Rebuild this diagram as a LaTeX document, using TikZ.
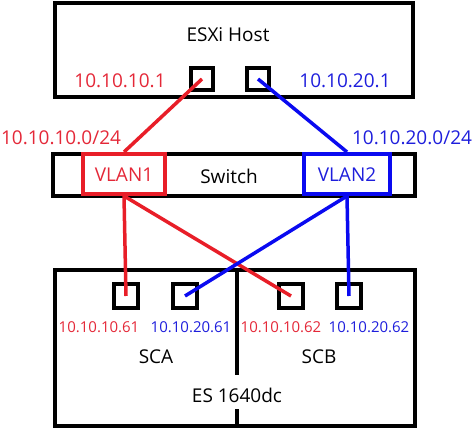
\documentclass[tikz,border=0pt]{standalone}
\usepackage{fontspec}
\setmainfont{Open Sans}
\definecolor{myred}{RGB}{232,30,40}
\definecolor{myblue}{RGB}{10,10,240}
\definecolor{redtxt}{RGB}{228,40,56}
\definecolor{bluetxt}{RGB}{30,30,220}
\begin{document}
\begin{tikzpicture}[x=1pt,y=-1pt,
  box/.style={draw=black,line width=4pt,inner sep=0pt},
  port/.style={draw=black,line width=4pt,minimum width=22pt,minimum height=22pt,inner sep=0pt},
  vlanbox/.style={line width=4pt,inner sep=0pt,minimum height=40pt},
  lbl/.style={font=\fontsize{19}{20}\selectfont,inner sep=0pt},
  small/.style={font=\fontsize{15}{16}\selectfont,inner sep=0pt},
  redline/.style={myred,line width=3.5pt},
  blueline/.style={myblue,line width=3.5pt}]
\useasboundingbox (0,0) rectangle (474,430);
% ESXi host
\node[box,minimum width=358pt,minimum height=94pt] (host) at (234,50) {};
\node[lbl] (hostlbl) at (228,35) {ESXi Host};
\node[port] (hp1) at (202,79) {};
\node[port] (hp2) at (258,79) {};
\node[lbl,text=redtxt] (ip1) at (120,81) {10.10.10.1};
\node[lbl,text=bluetxt] (ip2) at (345,81) {10.10.20.1};
\node[lbl,text=redtxt] (net1) at (61,138) {10.10.10.0/24};
\node[lbl,text=bluetxt] (net2) at (412,138) {10.10.20.0/24};
% Switch
\node[box,minimum width=362pt,minimum height=42pt] (sw) at (234,175) {};
\node[lbl] (swlbl) at (229,176) {Switch};
\node[vlanbox,draw=myred,minimum width=82pt] (v1) at (124,174) {};
\node[lbl,text=redtxt] (v1lbl) at (124,175) {VLAN1};
\node[vlanbox,draw=myblue,minimum width=86pt] (v2) at (347,174) {};
\node[lbl,text=bluetxt] (v2lbl) at (347,175) {VLAN2};
% Storage
\draw[black,line width=4pt] (55,270) rectangle (415,426);
\coordinate (dtop) at (237,270);
\coordinate (dgap1) at (237,375);
\coordinate (dgap2) at (237,409);
\coordinate (dbot) at (237,426);
\draw[black,line width=4pt] (dtop) -- (dgap1);
\draw[black,line width=4pt] (dgap2) -- (dbot);
\node[port,minimum width=24pt,minimum height=24pt] (a1) at (126,296) {};
\node[port,minimum width=24pt,minimum height=24pt] (a2) at (185,296) {};
\node[port,minimum width=24pt,minimum height=24pt] (b1) at (291,296) {};
\node[port,minimum width=24pt,minimum height=24pt] (b2) at (349,296) {};
\node[small,text=redtxt] (a1ip) at (99,327) {10.10.10.61};
\node[small,text=bluetxt] (a2ip) at (191,327) {10.10.20.61};
\node[small,text=redtxt] (b1ip) at (281,327) {10.10.10.62};
\node[small,text=bluetxt] (b2ip) at (369,327) {10.10.20.62};
\node[lbl] (sca) at (156,357) {SCA};
\node[lbl] (scb) at (319,357) {SCB};
\node[lbl] (es) at (237,395) {ES 1640dc};
% connectors
\draw[redline] (hp1.center) -- (v1.north);
\draw[blueline] (hp2.center) -- (v2.north);
\draw[redline] (v1.south) -- (a1.center);
\draw[redline] (v1.south) -- (b1.center);
\draw[blueline] (v2.south) -- (a2.center);
\draw[blueline] (v2.south) -- (b2.center);
\end{tikzpicture}
\end{document}
